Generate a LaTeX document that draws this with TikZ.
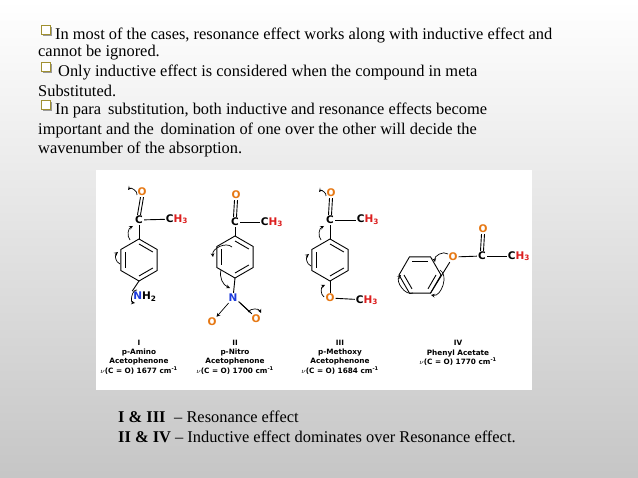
\documentclass[tikz,border=0pt]{standalone}
\usepackage{fontspec}
\setmainfont{Liberation Serif}
\newfontfamily\chemf{DejaVu Sans}
\usetikzlibrary{calc}
\definecolor{oxy}{RGB}{230,120,20}
\definecolor{hred}{RGB}{220,30,30}
\definecolor{nblue}{RGB}{30,60,220}
\definecolor{bul}{RGB}{200,180,60}
\tikzset{x=1pt,y=-1pt,
 txt/.style={anchor=west,font=\fontsize{16.4}{18}\selectfont,inner sep=0},
 atm/.style={font=\chemf\bfseries\fontsize{10.5}{11}\selectfont,inner sep=1pt},
 lab/.style={font=\chemf\bfseries\fontsize{7.3}{9.3}\selectfont,align=center,inner sep=0},
 bond/.style={line width=0.9pt},
 carr/.style={-stealth,line width=0.7pt},
 bullet/.style={draw=bul!80!black,line width=1pt,fill=white,minimum size=9pt,inner sep=0}}
\newcommand{\hexa}[3]{% center x,y, rotation
 \draw[bond] ($(#1,#2)+(#3:21)$) -- ($(#1,#2)+(#3+60:21)$) -- ($(#1,#2)+(#3+120:21)$) -- ($(#1,#2)+(#3+180:21)$) -- ($(#1,#2)+(#3+240:21)$) -- ($(#1,#2)+(#3+300:21)$) -- cycle;
 \draw[bond] ($(#1,#2)+(#3:16)$) -- ($(#1,#2)+(#3+60:16)$);
 \draw[bond] ($(#1,#2)+(#3+120:16)$) -- ($(#1,#2)+(#3+180:16)$);
 \draw[bond] ($(#1,#2)+(#3+240:16)$) -- ($(#1,#2)+(#3+300:16)$);}
\begin{document}
\begin{tikzpicture}
\useasboundingbox (0,0) rectangle (638,478);
\shade[top color=white,bottom color=gray!45] (0,0) rectangle (638,478);
% text
\foreach \y in {35,72,110}{\fill[black!40] (42.5,\y+1.5) rectangle (51.5,\y-7.5); \node[bullet] at (46,\y-4.5) {};}
\node[txt] (t1) at (55,35) {In most of the cases, resonance effect works along with inductive effect and};
\node[txt] (t2) at (38,53) {cannot be ignored.};
\node[txt] (t3) at (58,72) {Only inductive effect is considered when the compound in meta};
\node[txt] (t4) at (38,91) {Substituted.};
\node[txt] (t5) at (55,110) {In para\, substitution, both inductive and resonance effects become};
\node[txt] (t6) at (38,130) {important and the\, domination of one over the other will decide the};
\node[txt] (t7) at (38,149) {wavenumber of the absorption.};
\fill[white] (96,170) rectangle (532,390);
% I
\hexa{139}{260}{30}
\node[atm,text=oxy] (o1) at (142,192) {O};
\node[atm] (c1) at (139,220) {C};
\node[atm] (m1) at (177,219) {C\textcolor{hred}{H\textsubscript{3}}};
\node[atm] (n1) at (145,297) {\textcolor{nblue}{N}H\textsubscript{2}};
\draw[bond] ([xshift=-1.5]c1.north) -- ([xshift=-1.5]o1.south);
\draw[bond] ([xshift=1.5]c1.north) -- ([xshift=1.5]o1.south);
\draw[bond] (c1) -- (m1); \draw[bond] (c1) -- (139,239); \draw[bond] (139,281) -- (n1.north west);
\draw[carr] (130,240) to[bend left=50] (133,226);
\draw[carr] (137,195) to[bend right=80] (128,190);
\draw[carr] (120,264) to[bend left=60] (118,252);
\draw[carr] (137,290) to[bend right=90] (135,303);
\node[lab] (l1) at (139,357) {I\\p-Amino\\Acetophenone\\$\nu$(C = O) 1677 cm\textsuperscript{-1}};
% II
\hexa{235}{257}{30}
\node[atm,text=oxy] (o2) at (236,195) {O};
\node[atm] (c2) at (235,222) {C};
\node[atm] (m2) at (272,222) {C\textcolor{hred}{H\textsubscript{3}}};
\node[atm,text=nblue] (n2) at (233,298) {N};
\node[atm,text=oxy] (oa) at (212,322) {O};
\node[atm,text=oxy] (ob) at (256,319) {O};
\draw[bond] ([xshift=-1.5]c2.north) -- ([xshift=-1.5]o2.south);
\draw[bond] ([xshift=1.5]c2.north) -- ([xshift=1.5]o2.south);
\draw[bond] (c2) -- (m2); \draw[bond] (c2) -- (235,236); \draw[bond] (235,278) -- (n2);
\draw[carr] (n2) -- (oa);
\draw[bond] ([yshift=1.5]n2.south east) -- ([yshift=1.5]ob.north west);
\draw[bond] ([xshift=1.5]n2.south east) -- ([xshift=1.5]ob.north west);
\draw[carr] (232,247) to[bend right=70] (213,257);
\draw[carr] (221,270) to[bend right=40] (230,288);
\draw[carr] (248,312) to[bend left=60] (261,313);
\node[lab] (l2) at (235,357) {II\\p-Nitro\\Acetophenone\\$\nu$(C = O) 1700 cm\textsuperscript{-1}};
% III
\hexa{330}{260}{30}
\node[atm,text=oxy] (o3) at (331,193) {O};
\node[atm] (c3) at (330,220) {C};
\node[atm] (m3) at (368,220) {C\textcolor{hred}{H\textsubscript{3}}};
\node[atm,text=oxy] (ob3) at (330,298) {O};
\node[atm] (mm3) at (367,300) {C\textcolor{hred}{H\textsubscript{3}}};
\draw[bond] ([xshift=-1.5]c3.north) -- ([xshift=-1.5]o3.south);
\draw[bond] ([xshift=1.5]c3.north) -- ([xshift=1.5]o3.south);
\draw[bond] (c3) -- (m3); \draw[bond] (c3) -- (330,239); \draw[bond] (330,281) -- (ob3); \draw[bond] (ob3) -- (mm3);
\draw[carr] (326,196) to[bend right=80] (319,192);
\draw[carr] (321,240) to[bend left=50] (324,226);
\draw[carr] (311,266) to[bend left=60] (309,254);
\draw[carr] (324,297) to[bend left=60] (325,285);
\node[lab] (l3) at (340,357) {III\\p-Methoxy\\Acetophenone\\$\nu$(C = O) 1684 cm\textsuperscript{-1}};
% IV
\hexa{420}{275}{0}
\node[atm,text=oxy] (o4) at (453,257) {O};
\node[atm] (c4) at (482,256) {C};
\node[atm,text=oxy] (ot4) at (483,229) {O};
\node[atm] (m4) at (519,256) {C\textcolor{hred}{H\textsubscript{3}}};
\draw[bond] ($(420,275)+(60:21)$) -- (o4); \draw[bond] (o4) -- (c4); \draw[bond] (c4) -- (m4);
\draw[bond] ([xshift=-1.5]c4.north) -- ([xshift=-1.5]ot4.south);
\draw[bond] ([xshift=1.5]c4.north) -- ([xshift=1.5]ot4.south);
\draw[carr] (448,254) to[bend right=70] (435,262);
\draw[carr] (440,270) to[bend left=80] (431,295);
\draw[carr] (413,293) to[bend left=80] (401,275);
\node[lab] (l4) at (458,353) {IV\\Phenyl Acetate\\$\nu$(C = O) 1770 cm\textsuperscript{-1}};
% bottom
\node[txt] (b1) at (118,417) {\textbf{I \& III}\; -- Resonance effect};
\node[txt] (b2) at (118,437) {\textbf{II \& IV} -- Inductive effect dominates over Resonance effect.};
\end{tikzpicture}
\end{document}
